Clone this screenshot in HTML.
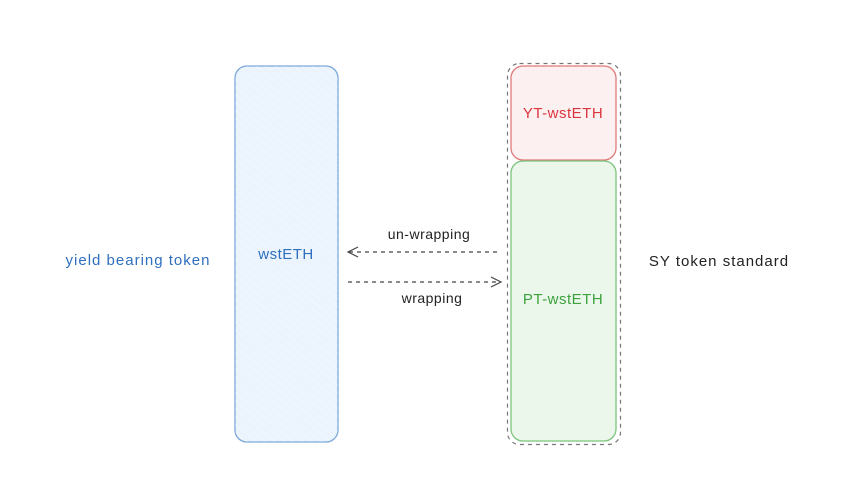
<!DOCTYPE html>
<html><head><style>
body{margin:0;background:#fff;width:854px;height:476px;overflow:hidden;}
svg text{font-family:"Liberation Sans",sans-serif;}
</style></head><body>
<svg width="854" height="476" viewBox="0 0 854 476">
<defs>
<pattern id="h" width="6" height="6" patternUnits="userSpaceOnUse" patternTransform="rotate(-50)">
<line x1="0" y1="0" x2="0" y2="6" stroke="#fff" stroke-opacity="0.5" stroke-width="1"/>
</pattern>
</defs>
<rect x="235" y="66" width="103" height="376" rx="12" fill="#ebf3fc" stroke="#7aa9dc" stroke-width="1.3"/>
<rect x="235" y="66" width="103" height="376" rx="12" fill="url(#h)"/>
<rect x="507.5" y="63.5" width="113" height="381" rx="12" fill="none" stroke="#777" stroke-width="1.2" stroke-dasharray="4 4"/>
<rect x="511" y="66" width="105" height="94" rx="12" fill="#fdf0f0" stroke="#e07a7a" stroke-width="1.3"/>
<rect x="511" y="161" width="105" height="280" rx="12" fill="#eaf7ea" stroke="#7cc47c" stroke-width="1.3"/>
<text x="286" y="259" font-size="15" letter-spacing="0.5" fill="#2f6fbf" text-anchor="middle">wstETH</text>
<text x="563" y="118" font-size="15" letter-spacing="0.5" fill="#d9363e" text-anchor="middle">YT-wstETH</text>
<text x="563" y="304" font-size="15" letter-spacing="0.5" fill="#3da13d" text-anchor="middle">PT-wstETH</text>
<text x="138" y="265" font-size="15" letter-spacing="1" fill="#2f6fbf" text-anchor="middle">yield bearing token</text>
<text x="719" y="266" font-size="15" letter-spacing="1" fill="#222" text-anchor="middle">SY token standard</text>
<text x="429" y="239" font-size="14" letter-spacing="0.5" fill="#222" text-anchor="middle">un-wrapping</text>
<text x="432" y="303" font-size="14" letter-spacing="0.5" fill="#222" text-anchor="middle">wrapping</text>
<g stroke="#444" stroke-width="1.2" fill="none">
<line x1="349" y1="252" x2="500" y2="252" stroke-dasharray="4 4"/>
<polyline points="358,247 348,252 358,257"/>
<line x1="348" y1="282" x2="500" y2="282" stroke-dasharray="4 4"/>
<polyline points="491,277 501,282 491,287"/>
</g>
</svg>
</body></html>
